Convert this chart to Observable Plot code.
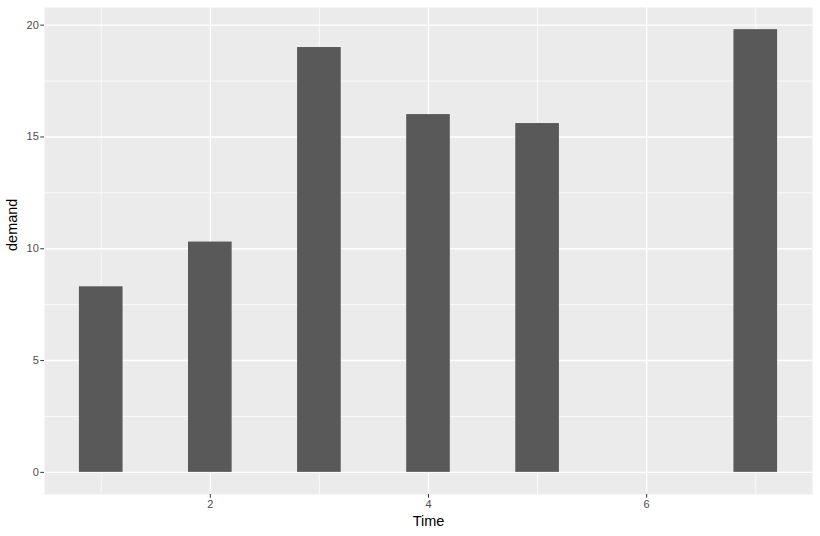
<!DOCTYPE html>
<html>
<head>
<meta charset="utf-8">
<script src="https://cdn.jsdelivr.net/npm/d3@7"></script>
<script src="https://cdn.jsdelivr.net/npm/@observablehq/plot@0.6"></script>
<style>
  html, body { margin: 0; padding: 0; background: #fff; }
  #chart svg { display: block; }
</style>
</head>
<body>
<div id="chart"></div>
<script>
const time = [1, 2, 3, 4, 5, 7];
const demand = [8.3, 10.3, 19.0, 16.0, 15.6, 19.8];
const xMajor = [2, 4, 6];
const xMinor = [1, 3, 5, 7];
const yMajor = [0, 5, 10, 15, 20];
const yMinor = [2.5, 7.5, 12.5, 17.5];
const barWidth = 0.4;

const data = time.map((t, i) => ({ time: t, demand: demand[i] }));

const chart = Plot.plot({
  width: 820,
  height: 536,
  marginLeft: 44,
  marginRight: 8,
  marginTop: 7,
  marginBottom: 42,
  style: { fontFamily: "'Liberation Sans', Arial, sans-serif", background: "#fff" },
  x: { type: "linear", domain: [0.48, 7.52] },
  y: { type: "linear", domain: [-0.99, 20.79] },
  marks: [
    Plot.frame({ fill: "#EBEBEB", stroke: null }),
    Plot.ruleX(xMinor, { stroke: "#fff", strokeWidth: 0.7 }),
    Plot.ruleY(yMinor, { stroke: "#fff", strokeWidth: 0.7 }),
    Plot.ruleX(xMajor, { stroke: "#fff", strokeWidth: 1.4 }),
    Plot.ruleY(yMajor, { stroke: "#fff", strokeWidth: 1.4 }),
    Plot.rectY(data, {
      x1: d => d.time - barWidth / 2,
      x2: d => d.time + barWidth / 2,
      y1: 0,
      y2: "demand",
      fill: "#595959"
    }),
    Plot.axisX(xMajor, {
      tickSize: 3.7, tickPadding: 2, stroke: "#333", fill: "#4D4D4D",
      fontSize: 11, label: null, tickFormat: d => String(d)
    }),
    Plot.axisY(yMajor, {
      tickSize: 3.7, tickPadding: 2, stroke: "#333", fill: "#4D4D4D",
      fontSize: 11, label: null, tickFormat: d => String(d)
    }),
    Plot.text(["Time"], {
      frameAnchor: "bottom", dy: 27, lineAnchor: "middle",
      fontSize: 14.5, fill: "#000", text: d => d
    }),
    Plot.text(["demand"], {
      frameAnchor: "left", dx: -32, rotate: -90, lineAnchor: "middle",
      fontSize: 14.5, fill: "#000", text: d => d
    })
  ]
});
document.getElementById("chart").appendChild(chart);
</script>
</body>
</html>
